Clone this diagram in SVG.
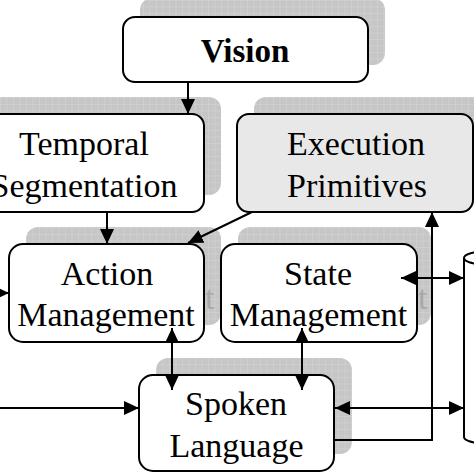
<svg xmlns="http://www.w3.org/2000/svg" width="474" height="474" viewBox="0 0 474 474">
<defs>
<pattern id="grid" width="6.5" height="6.5" patternUnits="userSpaceOnUse">
<rect width="6.5" height="6.5" fill="#c6c6c6"/>
<path d="M0,0 H6.5 M0,0 V6.5" stroke="#dcdcdc" stroke-width="0.7" fill="none"/>
</pattern>
<marker id="ah" viewBox="0 0 15 15" refX="15" refY="7.5" markerWidth="15" markerHeight="15" markerUnits="userSpaceOnUse" orient="auto-start-reverse">
<path d="M0,0.5 L15,7.5 L0,14.5 z" fill="#000"/>
</marker>
</defs>
<style>
.sh{fill:url(#grid);stroke:none}
.box{fill:#fff;stroke:#000;stroke-width:2}
.gray{fill:#e8e8e8}
.t{font-family:"Liberation Serif","Times New Roman",serif;font-size:34px;text-anchor:middle;fill:#000}
.b{font-weight:bold;font-size:33px}
.st{font-family:"Liberation Serif","Times New Roman",serif;font-size:34px;fill:#a8a8a8}
.c{fill:none;stroke:#000;stroke-width:2}
</style>
<rect width="474" height="474" fill="#fff"/>
<g id="shadows">
<rect class="sh" x="140" y="-2" width="245" height="67" rx="12"/>
<rect class="sh" x="-19" y="97" width="240" height="98" rx="12"/>
<rect class="sh" x="254" y="97" width="240" height="98" rx="12"/>
<rect class="sh" x="26" y="227" width="195" height="98" rx="12"/>
<rect class="sh" x="238" y="227" width="193" height="98" rx="12"/>
<rect class="sh" x="156" y="358" width="196" height="96" rx="12"/>
<text class="st" x="205" y="309">t</text>
<text class="st" x="418" y="309">t</text>
</g>
<g id="vision">
<rect class="box" x="123" y="17" width="245" height="65" rx="12"/>
<text class="t b" x="245" y="62">Vision</text>
</g>
<g id="temporal">
<rect class="box" x="-36" y="114" width="240" height="98" rx="12"/>
<text class="t" x="84" y="155">Temporal</text>
<text class="t" x="84" y="197">Segmentation</text>
</g>
<g id="execution">
<rect class="box gray" x="237" y="114" width="236" height="98" rx="12"/>
<text class="t" x="356" y="155">Execution</text>
<text class="t" x="357" y="197">Primitives</text>
</g>
<g id="action">
<rect class="box" x="9" y="244" width="195" height="98" rx="14"/>
<text class="t" x="107" y="285">Action</text>
<text class="t" x="106" y="326">Management</text>
</g>
<g id="state">
<rect class="box" x="221" y="244" width="196" height="98" rx="14"/>
<text class="t" x="318" y="285">State</text>
<text class="t" x="318.5" y="326">Management</text>
</g>
<g id="spoken">
<rect class="box" x="139" y="375" width="195" height="96" rx="14"/>
<text class="t" x="236" y="415">Spoken</text>
<text class="t" x="236.5" y="457">Language</text>
</g>
<g id="store">
<path d="M464,258 V437 A18,6 0 0 0 500,437 V258" fill="#fff" stroke="#000" stroke-width="2"/>
<ellipse cx="482" cy="258" rx="18" ry="6" fill="#fff" stroke="#000" stroke-width="2"/>
</g>
<g id="connectors">
<path class="c" d="M188,82 V114" marker-end="url(#ah)"/>
<path class="c" d="M107,212 V244" marker-end="url(#ah)"/>
<path class="c" d="M252,212 L188,243" marker-end="url(#ah)"/>
<path class="c" d="M334,440 H432 V212" marker-end="url(#ah)"/>
<path class="c" d="M401,278 H464" marker-start="url(#ah)" marker-end="url(#ah)"/>
<path class="c" d="M335,408 H464" marker-start="url(#ah)" marker-end="url(#ah)"/>
<path class="c" d="M172,328 V390" marker-start="url(#ah)" marker-end="url(#ah)"/>
<path class="c" d="M302,328 V390" marker-start="url(#ah)" marker-end="url(#ah)"/>
<path class="c" d="M-20,293 H9" marker-end="url(#ah)"/>
<path class="c" d="M-20,408 H139" marker-end="url(#ah)"/>
</g>
</svg>
